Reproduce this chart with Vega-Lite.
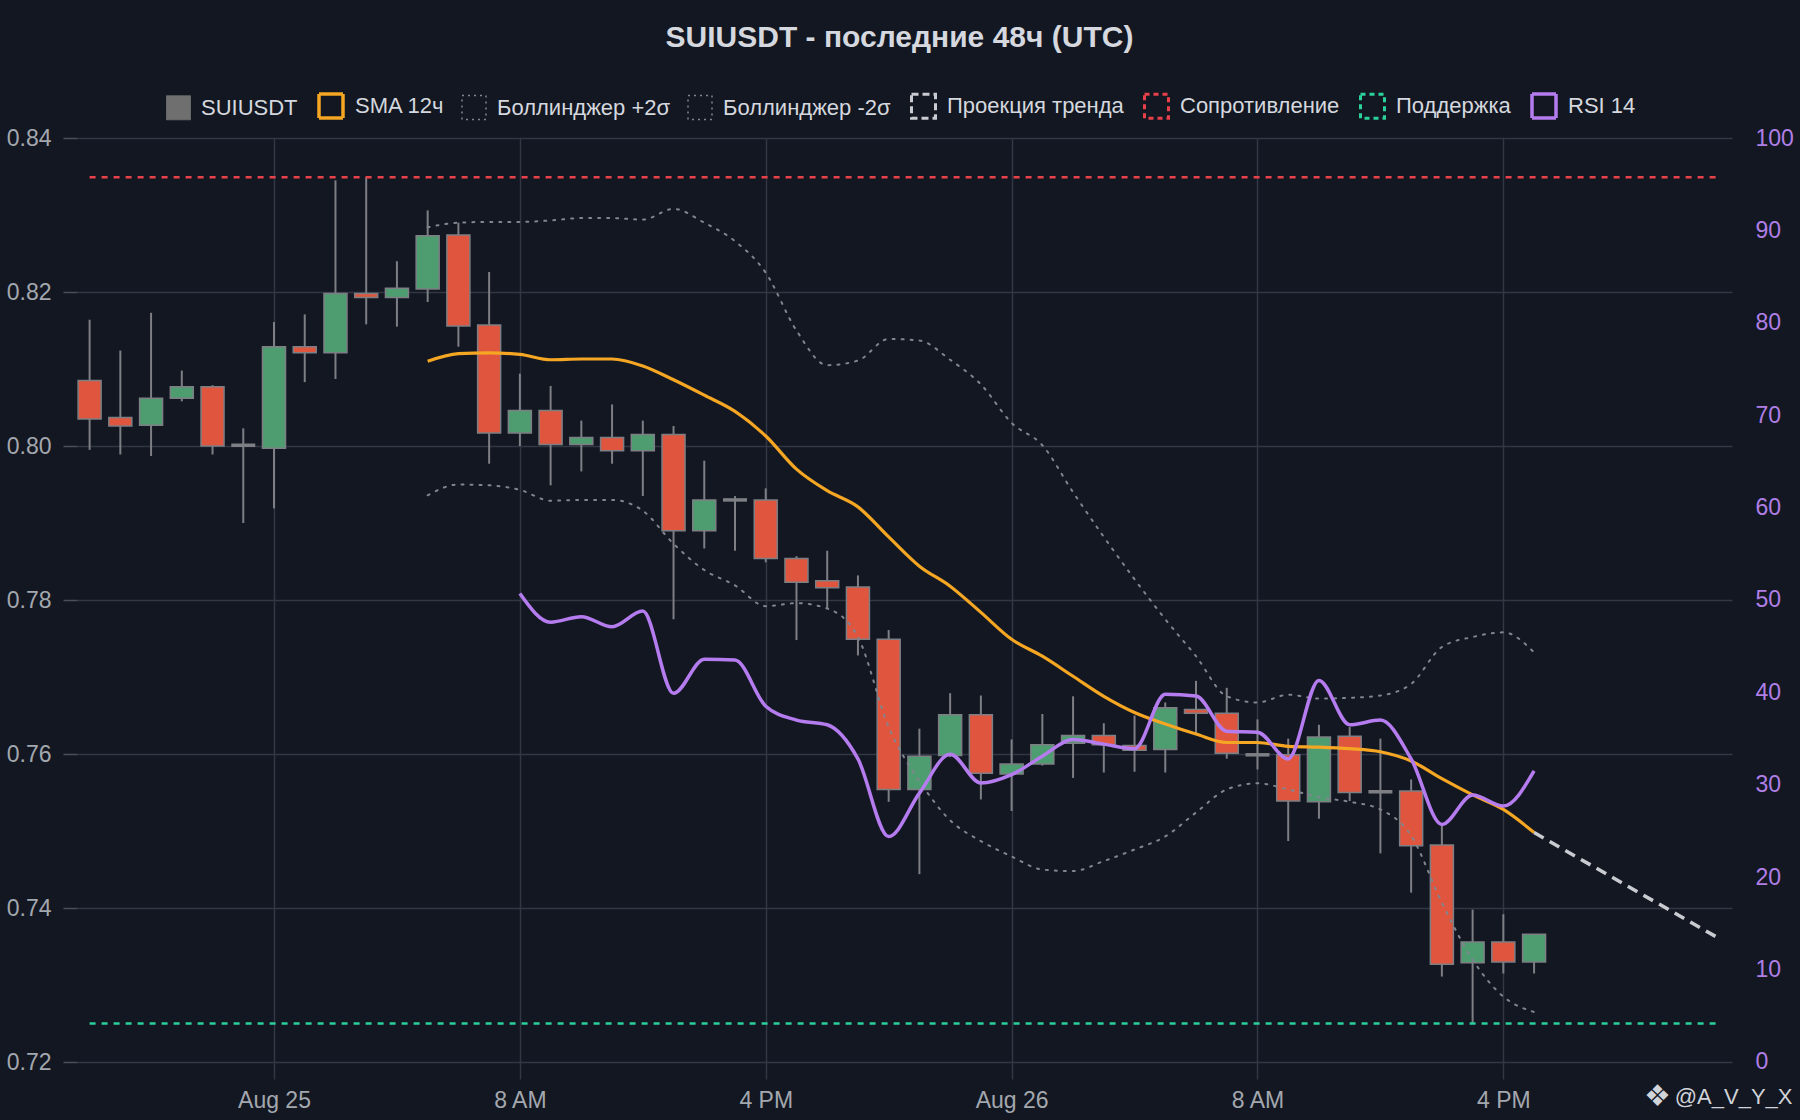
{
  "$schema": "https://vega.github.io/schema/vega-lite/v6.json",
  "background": "#131722",
  "autosize": {"type": "none"},
  "padding": {"left": 77, "top": 138, "right": 68, "bottom": 41},
  "width": 1655,
  "height": 941,
  "title": {
    "text": "SUIUSDT - последние 48ч (UTC)",
    "anchor": "middle",
    "fontSize": 30,
    "fontWeight": "bold",
    "color": "#d5d8de",
    "offset": 39,
    "dx": -5
  },
  "datasets": {
    "candles": [
      {"t": "2025-08-24T18:00:00Z", "o": 0.8085, "h": 0.8164, "l": 0.7995, "c": 0.8035},
      {"t": "2025-08-24T19:00:00Z", "o": 0.8037, "h": 0.8124, "l": 0.7989, "c": 0.8026},
      {"t": "2025-08-24T20:00:00Z", "o": 0.8027, "h": 0.8173, "l": 0.7987, "c": 0.8062},
      {"t": "2025-08-24T21:00:00Z", "o": 0.8062, "h": 0.8098, "l": 0.8058, "c": 0.8077},
      {"t": "2025-08-24T22:00:00Z", "o": 0.8077, "h": 0.8079, "l": 0.7989, "c": 0.8000},
      {"t": "2025-08-24T23:00:00Z", "o": 0.8001, "h": 0.8023, "l": 0.7900, "c": 0.8001},
      {"t": "2025-08-25T00:00:00Z", "o": 0.7997, "h": 0.8161, "l": 0.7919, "c": 0.8129},
      {"t": "2025-08-25T01:00:00Z", "o": 0.8129, "h": 0.8171, "l": 0.8083, "c": 0.8121},
      {"t": "2025-08-25T02:00:00Z", "o": 0.8121, "h": 0.8345, "l": 0.8087, "c": 0.8198},
      {"t": "2025-08-25T03:00:00Z", "o": 0.8198, "h": 0.8349, "l": 0.8158, "c": 0.8193},
      {"t": "2025-08-25T04:00:00Z", "o": 0.8193, "h": 0.8240, "l": 0.8155, "c": 0.8205},
      {"t": "2025-08-25T05:00:00Z", "o": 0.8204, "h": 0.8306, "l": 0.8187, "c": 0.8273},
      {"t": "2025-08-25T06:00:00Z", "o": 0.8274, "h": 0.8290, "l": 0.8129, "c": 0.8156},
      {"t": "2025-08-25T07:00:00Z", "o": 0.8157, "h": 0.8226, "l": 0.7977, "c": 0.8017},
      {"t": "2025-08-25T08:00:00Z", "o": 0.8017, "h": 0.8094, "l": 0.8000, "c": 0.8046},
      {"t": "2025-08-25T09:00:00Z", "o": 0.8046, "h": 0.8078, "l": 0.7949, "c": 0.8002},
      {"t": "2025-08-25T10:00:00Z", "o": 0.8002, "h": 0.8033, "l": 0.7967, "c": 0.8011},
      {"t": "2025-08-25T11:00:00Z", "o": 0.8011, "h": 0.8054, "l": 0.7977, "c": 0.7994},
      {"t": "2025-08-25T12:00:00Z", "o": 0.7994, "h": 0.8033, "l": 0.7935, "c": 0.8015},
      {"t": "2025-08-25T13:00:00Z", "o": 0.8015, "h": 0.8026, "l": 0.7775, "c": 0.7890},
      {"t": "2025-08-25T14:00:00Z", "o": 0.7890, "h": 0.7981, "l": 0.7867, "c": 0.7930},
      {"t": "2025-08-25T15:00:00Z", "o": 0.7930, "h": 0.7935, "l": 0.7864, "c": 0.7930},
      {"t": "2025-08-25T16:00:00Z", "o": 0.7930, "h": 0.7945, "l": 0.7849, "c": 0.7854},
      {"t": "2025-08-25T17:00:00Z", "o": 0.7854, "h": 0.7857, "l": 0.7748, "c": 0.7823},
      {"t": "2025-08-25T18:00:00Z", "o": 0.7825, "h": 0.7864, "l": 0.7789, "c": 0.7816},
      {"t": "2025-08-25T19:00:00Z", "o": 0.7817, "h": 0.7832, "l": 0.7728, "c": 0.7749},
      {"t": "2025-08-25T20:00:00Z", "o": 0.7749, "h": 0.7761, "l": 0.7538, "c": 0.7554},
      {"t": "2025-08-25T21:00:00Z", "o": 0.7554, "h": 0.7633, "l": 0.7444, "c": 0.7597},
      {"t": "2025-08-25T22:00:00Z", "o": 0.7598, "h": 0.7679, "l": 0.7596, "c": 0.7651},
      {"t": "2025-08-25T23:00:00Z", "o": 0.7651, "h": 0.7676, "l": 0.7541, "c": 0.7575},
      {"t": "2025-08-26T00:00:00Z", "o": 0.7574, "h": 0.7619, "l": 0.7526, "c": 0.7587},
      {"t": "2025-08-26T01:00:00Z", "o": 0.7587, "h": 0.7652, "l": 0.7585, "c": 0.7612},
      {"t": "2025-08-26T02:00:00Z", "o": 0.7614, "h": 0.7675, "l": 0.7569, "c": 0.7624},
      {"t": "2025-08-26T03:00:00Z", "o": 0.7624, "h": 0.7640, "l": 0.7576, "c": 0.7612},
      {"t": "2025-08-26T04:00:00Z", "o": 0.7611, "h": 0.7650, "l": 0.7577, "c": 0.7605},
      {"t": "2025-08-26T05:00:00Z", "o": 0.7606, "h": 0.7667, "l": 0.7576, "c": 0.7660},
      {"t": "2025-08-26T06:00:00Z", "o": 0.7658, "h": 0.7695, "l": 0.7625, "c": 0.7653},
      {"t": "2025-08-26T07:00:00Z", "o": 0.7653, "h": 0.7686, "l": 0.7594, "c": 0.7601},
      {"t": "2025-08-26T08:00:00Z", "o": 0.7599, "h": 0.7645, "l": 0.7580, "c": 0.7599},
      {"t": "2025-08-26T09:00:00Z", "o": 0.7599, "h": 0.7620, "l": 0.7487, "c": 0.7539},
      {"t": "2025-08-26T10:00:00Z", "o": 0.7538, "h": 0.7638, "l": 0.7516, "c": 0.7622},
      {"t": "2025-08-26T11:00:00Z", "o": 0.7623, "h": 0.7635, "l": 0.7539, "c": 0.7550},
      {"t": "2025-08-26T12:00:00Z", "o": 0.7551, "h": 0.7620, "l": 0.7471, "c": 0.7551},
      {"t": "2025-08-26T13:00:00Z", "o": 0.7552, "h": 0.7567, "l": 0.7420, "c": 0.7481},
      {"t": "2025-08-26T14:00:00Z", "o": 0.7482, "h": 0.7507, "l": 0.7311, "c": 0.7327},
      {"t": "2025-08-26T15:00:00Z", "o": 0.7329, "h": 0.7398, "l": 0.7251, "c": 0.7356},
      {"t": "2025-08-26T16:00:00Z", "o": 0.7356, "h": 0.7392, "l": 0.7315, "c": 0.7330},
      {"t": "2025-08-26T17:00:00Z", "o": 0.7330, "h": 0.7366, "l": 0.7315, "c": 0.7366}
    ],
    "sma": [
      {"t": "2025-08-25T05:00:00Z", "v": 0.8110},
      {"t": "2025-08-25T06:00:00Z", "v": 0.8120},
      {"t": "2025-08-25T07:00:00Z", "v": 0.8121},
      {"t": "2025-08-25T08:00:00Z", "v": 0.8119},
      {"t": "2025-08-25T09:00:00Z", "v": 0.8112},
      {"t": "2025-08-25T10:00:00Z", "v": 0.8113},
      {"t": "2025-08-25T11:00:00Z", "v": 0.8113},
      {"t": "2025-08-25T12:00:00Z", "v": 0.8104},
      {"t": "2025-08-25T13:00:00Z", "v": 0.8086},
      {"t": "2025-08-25T14:00:00Z", "v": 0.8066},
      {"t": "2025-08-25T15:00:00Z", "v": 0.8045},
      {"t": "2025-08-25T16:00:00Z", "v": 0.8013},
      {"t": "2025-08-25T17:00:00Z", "v": 0.7970},
      {"t": "2025-08-25T18:00:00Z", "v": 0.7942},
      {"t": "2025-08-25T19:00:00Z", "v": 0.7921},
      {"t": "2025-08-25T20:00:00Z", "v": 0.7882},
      {"t": "2025-08-25T21:00:00Z", "v": 0.7844},
      {"t": "2025-08-25T22:00:00Z", "v": 0.7818},
      {"t": "2025-08-25T23:00:00Z", "v": 0.7784},
      {"t": "2025-08-26T00:00:00Z", "v": 0.7749},
      {"t": "2025-08-26T01:00:00Z", "v": 0.7727},
      {"t": "2025-08-26T02:00:00Z", "v": 0.7701},
      {"t": "2025-08-26T03:00:00Z", "v": 0.7675},
      {"t": "2025-08-26T04:00:00Z", "v": 0.7654},
      {"t": "2025-08-26T05:00:00Z", "v": 0.7639},
      {"t": "2025-08-26T06:00:00Z", "v": 0.7626},
      {"t": "2025-08-26T07:00:00Z", "v": 0.7615},
      {"t": "2025-08-26T08:00:00Z", "v": 0.7615},
      {"t": "2025-08-26T09:00:00Z", "v": 0.7610},
      {"t": "2025-08-26T10:00:00Z", "v": 0.7609},
      {"t": "2025-08-26T11:00:00Z", "v": 0.7607},
      {"t": "2025-08-26T12:00:00Z", "v": 0.7603},
      {"t": "2025-08-26T13:00:00Z", "v": 0.7591},
      {"t": "2025-08-26T14:00:00Z", "v": 0.7568},
      {"t": "2025-08-26T15:00:00Z", "v": 0.7547},
      {"t": "2025-08-26T16:00:00Z", "v": 0.7528},
      {"t": "2025-08-26T17:00:00Z", "v": 0.7498}
    ],
    "bands": [
      {"t": "2025-08-25T05:00:00Z", "up": 0.8284, "lo": 0.7936},
      {"t": "2025-08-25T06:00:00Z", "up": 0.8290, "lo": 0.7950},
      {"t": "2025-08-25T07:00:00Z", "up": 0.8291, "lo": 0.7949},
      {"t": "2025-08-25T08:00:00Z", "up": 0.8291, "lo": 0.7943},
      {"t": "2025-08-25T09:00:00Z", "up": 0.8293, "lo": 0.7929},
      {"t": "2025-08-25T10:00:00Z", "up": 0.8296, "lo": 0.7930},
      {"t": "2025-08-25T11:00:00Z", "up": 0.8296, "lo": 0.7930},
      {"t": "2025-08-25T12:00:00Z", "up": 0.8294, "lo": 0.7916},
      {"t": "2025-08-25T13:00:00Z", "up": 0.8308, "lo": 0.7873},
      {"t": "2025-08-25T14:00:00Z", "up": 0.8290, "lo": 0.7839},
      {"t": "2025-08-25T15:00:00Z", "up": 0.8266, "lo": 0.7819},
      {"t": "2025-08-25T16:00:00Z", "up": 0.8225, "lo": 0.7792},
      {"t": "2025-08-25T17:00:00Z", "up": 0.8150, "lo": 0.7796},
      {"t": "2025-08-25T18:00:00Z", "up": 0.8105, "lo": 0.7789},
      {"t": "2025-08-25T19:00:00Z", "up": 0.8111, "lo": 0.7752},
      {"t": "2025-08-25T20:00:00Z", "up": 0.8139, "lo": 0.7635},
      {"t": "2025-08-25T21:00:00Z", "up": 0.8137, "lo": 0.7565},
      {"t": "2025-08-25T22:00:00Z", "up": 0.8112, "lo": 0.7514},
      {"t": "2025-08-25T23:00:00Z", "up": 0.8080, "lo": 0.7487},
      {"t": "2025-08-26T00:00:00Z", "up": 0.8030, "lo": 0.7467},
      {"t": "2025-08-26T01:00:00Z", "up": 0.8001, "lo": 0.7450},
      {"t": "2025-08-26T02:00:00Z", "up": 0.7940, "lo": 0.7448},
      {"t": "2025-08-26T03:00:00Z", "up": 0.7882, "lo": 0.7461},
      {"t": "2025-08-26T04:00:00Z", "up": 0.7827, "lo": 0.7476},
      {"t": "2025-08-26T05:00:00Z", "up": 0.7775, "lo": 0.7493},
      {"t": "2025-08-26T06:00:00Z", "up": 0.7727, "lo": 0.7524},
      {"t": "2025-08-26T07:00:00Z", "up": 0.7675, "lo": 0.7554},
      {"t": "2025-08-26T08:00:00Z", "up": 0.7667, "lo": 0.7562},
      {"t": "2025-08-26T09:00:00Z", "up": 0.7677, "lo": 0.7554},
      {"t": "2025-08-26T10:00:00Z", "up": 0.7672, "lo": 0.7544},
      {"t": "2025-08-26T11:00:00Z", "up": 0.7673, "lo": 0.7538},
      {"t": "2025-08-26T12:00:00Z", "up": 0.7676, "lo": 0.7528},
      {"t": "2025-08-26T13:00:00Z", "up": 0.7691, "lo": 0.7494},
      {"t": "2025-08-26T14:00:00Z", "up": 0.7739, "lo": 0.7407},
      {"t": "2025-08-26T15:00:00Z", "up": 0.7752, "lo": 0.7333},
      {"t": "2025-08-26T16:00:00Z", "up": 0.7758, "lo": 0.7285},
      {"t": "2025-08-26T17:00:00Z", "up": 0.7732, "lo": 0.7265}
    ],
    "rsi": [
      {"t": "2025-08-25T08:00:00Z", "v": 50.7},
      {"t": "2025-08-25T09:00:00Z", "v": 47.6},
      {"t": "2025-08-25T10:00:00Z", "v": 48.2},
      {"t": "2025-08-25T11:00:00Z", "v": 47.1},
      {"t": "2025-08-25T12:00:00Z", "v": 48.8},
      {"t": "2025-08-25T13:00:00Z", "v": 39.9},
      {"t": "2025-08-25T14:00:00Z", "v": 43.6},
      {"t": "2025-08-25T15:00:00Z", "v": 43.5},
      {"t": "2025-08-25T16:00:00Z", "v": 38.5},
      {"t": "2025-08-25T17:00:00Z", "v": 37.0},
      {"t": "2025-08-25T18:00:00Z", "v": 36.5},
      {"t": "2025-08-25T19:00:00Z", "v": 32.8},
      {"t": "2025-08-25T20:00:00Z", "v": 24.4},
      {"t": "2025-08-25T21:00:00Z", "v": 29.1},
      {"t": "2025-08-25T22:00:00Z", "v": 33.3},
      {"t": "2025-08-25T23:00:00Z", "v": 30.2},
      {"t": "2025-08-26T00:00:00Z", "v": 31.1},
      {"t": "2025-08-26T01:00:00Z", "v": 33.1},
      {"t": "2025-08-26T02:00:00Z", "v": 34.9},
      {"t": "2025-08-26T03:00:00Z", "v": 34.4},
      {"t": "2025-08-26T04:00:00Z", "v": 33.9},
      {"t": "2025-08-26T05:00:00Z", "v": 39.8},
      {"t": "2025-08-26T06:00:00Z", "v": 39.6},
      {"t": "2025-08-26T07:00:00Z", "v": 35.8},
      {"t": "2025-08-26T08:00:00Z", "v": 35.7},
      {"t": "2025-08-26T09:00:00Z", "v": 32.8},
      {"t": "2025-08-26T10:00:00Z", "v": 41.3},
      {"t": "2025-08-26T11:00:00Z", "v": 36.5},
      {"t": "2025-08-26T12:00:00Z", "v": 37.0},
      {"t": "2025-08-26T13:00:00Z", "v": 32.8},
      {"t": "2025-08-26T14:00:00Z", "v": 25.7},
      {"t": "2025-08-26T15:00:00Z", "v": 28.9},
      {"t": "2025-08-26T16:00:00Z", "v": 27.7},
      {"t": "2025-08-26T17:00:00Z", "v": 31.5}
    ],
    "projection": [
      {"t": "2025-08-26T17:00:00Z", "v": 0.7498},
      {"t": "2025-08-26T23:00:00Z", "v": 0.7361}
    ],
    "levels": [
      {"name": "resistance", "t": "2025-08-24T18:00:00Z", "t2": "2025-08-26T23:00:00Z", "v": 0.8349},
      {"name": "support", "t": "2025-08-24T18:00:00Z", "t2": "2025-08-26T23:00:00Z", "v": 0.7250}
    ],
    "legend": [
      {"series": "SUIUSDT"},
      {"series": "SMA 12ч"},
      {"series": "Боллинджер +2σ"},
      {"series": "Боллинджер -2σ"},
      {"series": "Проекция тренда"},
      {"series": "Сопротивление"},
      {"series": "Поддержка"},
      {"series": "RSI 14"}
    ]
  },
  "encoding": {
    "x": {
      "field": "t",
      "type": "temporal",
      "scale": {"type": "utc", "domain": [1756056924000, 1756250784000], "padding": 0},
      "axis": {
        "values": [1756080000000, 1756108800000, 1756137600000, 1756166400000, 1756195200000, 1756224000000],
        "labelExpr": "utchours(datum.value) == 0 ? utcFormat(datum.value, '%b %d') : utcFormat(datum.value, '%-I %p')",
        "grid": true,
        "gridColor": "#323744",
        "gridWidth": 1.5,
        "ticks": false,
        "domain": false,
        "labelFontSize": 23,
        "labelColor": "#a3a7ae",
        "labelPadding": 10,
        "labelOverlap": false,
        "title": "@A_V_Y_X",
        "titleX": 1715,
        "titleY": 17,
        "titleAlign": "right",
        "titleBaseline": "middle",
        "titleFontSize": 22,
        "titleFontWeight": "normal",
        "titleColor": "#d0d3d8"
      }
    }
  },
  "layer": [
    {
      "layer": [
        {
          "data": {"name": "candles"},
          "mark": {"type": "rule", "stroke": "#7d7f84", "strokeWidth": 2},
          "encoding": {
            "y": {
              "field": "l",
              "type": "quantitative",
              "scale": {"domain": [0.7178, 0.84], "nice": false, "zero": false, "padding": 0},
              "axis": {"values": [0.72, 0.74, 0.76, 0.78, 0.80, 0.82, 0.84], "format": ".2f", "grid": true, "gridColor": "#323744", "gridWidth": 1.5, "ticks": true, "tickSize": 14, "tickColor": "#4a4f5a", "tickWidth": 1.5, "domain": false, "labelFontSize": 23, "labelColor": "#a3a7ae", "labelPadding": 12, "title": null}
            },
            "y2": {"field": "h"}
          }
        },
        {
          "data": {"name": "candles"},
          "transform": [{"filter": "datum.c > datum.o"}],
          "mark": {"type": "bar", "width": 23, "fill": "#4e9d71", "stroke": "#7d7f84", "strokeWidth": 1.5},
          "encoding": {
            "y": {
              "field": "o",
              "type": "quantitative",
              "scale": {"domain": [0.7178, 0.84], "nice": false, "zero": false, "padding": 0},
              "axis": {"values": [0.72, 0.74, 0.76, 0.78, 0.80, 0.82, 0.84], "format": ".2f", "grid": true, "gridColor": "#323744", "gridWidth": 1.5, "ticks": true, "tickSize": 14, "tickColor": "#4a4f5a", "tickWidth": 1.5, "domain": false, "labelFontSize": 23, "labelColor": "#a3a7ae", "labelPadding": 12, "title": null}
            },
            "y2": {"field": "c"}
          }
        },
        {
          "data": {"name": "candles"},
          "transform": [{"filter": "datum.c < datum.o"}],
          "mark": {"type": "bar", "width": 23, "fill": "#e0553e", "stroke": "#7d7f84", "strokeWidth": 1.5},
          "encoding": {
            "y": {
              "field": "o",
              "type": "quantitative",
              "scale": {"domain": [0.7178, 0.84], "nice": false, "zero": false, "padding": 0},
              "axis": {"values": [0.72, 0.74, 0.76, 0.78, 0.80, 0.82, 0.84], "format": ".2f", "grid": true, "gridColor": "#323744", "gridWidth": 1.5, "ticks": true, "tickSize": 14, "tickColor": "#4a4f5a", "tickWidth": 1.5, "domain": false, "labelFontSize": 23, "labelColor": "#a3a7ae", "labelPadding": 12, "title": null}
            },
            "y2": {"field": "c"}
          }
        },
        {
          "data": {"name": "candles"},
          "transform": [{"filter": "datum.c == datum.o"}],
          "mark": {"type": "tick", "orient": "horizontal", "size": 24, "thickness": 3.5, "color": "#7d7f84", "opacity": 1},
          "encoding": {
            "y": {
              "field": "o",
              "type": "quantitative",
              "scale": {"domain": [0.7178, 0.84], "nice": false, "zero": false, "padding": 0},
              "axis": {"values": [0.72, 0.74, 0.76, 0.78, 0.80, 0.82, 0.84], "format": ".2f", "grid": true, "gridColor": "#323744", "gridWidth": 1.5, "ticks": true, "tickSize": 14, "tickColor": "#4a4f5a", "tickWidth": 1.5, "domain": false, "labelFontSize": 23, "labelColor": "#a3a7ae", "labelPadding": 12, "title": null}
            }
          }
        },
        {
          "data": {"name": "levels"},
          "mark": {"type": "rule", "strokeWidth": 2.5, "strokeDash": [6, 6]},
          "encoding": {
            "x2": {"field": "t2"},
            "y": {
              "field": "v",
              "type": "quantitative",
              "scale": {"domain": [0.7178, 0.84], "nice": false, "zero": false, "padding": 0},
              "axis": {"values": [0.72, 0.74, 0.76, 0.78, 0.80, 0.82, 0.84], "format": ".2f", "grid": true, "gridColor": "#323744", "gridWidth": 1.5, "ticks": true, "tickSize": 14, "tickColor": "#4a4f5a", "tickWidth": 1.5, "domain": false, "labelFontSize": 23, "labelColor": "#a3a7ae", "labelPadding": 12, "title": null}
            },
            "stroke": {"condition": {"test": "datum.name == 'resistance'", "value": "#e8414a"}, "value": "#2bd19b"}
          }
        },
        {
          "data": {"name": "bands"},
          "mark": {"type": "line", "interpolate": "monotone", "stroke": "#80858e", "strokeWidth": 2, "strokeDash": [2, 7], "strokeCap": "round"},
          "encoding": {
            "y": {
              "field": "up",
              "type": "quantitative",
              "scale": {"domain": [0.7178, 0.84], "nice": false, "zero": false, "padding": 0},
              "axis": {"values": [0.72, 0.74, 0.76, 0.78, 0.80, 0.82, 0.84], "format": ".2f", "grid": true, "gridColor": "#323744", "gridWidth": 1.5, "ticks": true, "tickSize": 14, "tickColor": "#4a4f5a", "tickWidth": 1.5, "domain": false, "labelFontSize": 23, "labelColor": "#a3a7ae", "labelPadding": 12, "title": null}
            }
          }
        },
        {
          "data": {"name": "bands"},
          "mark": {"type": "line", "interpolate": "monotone", "stroke": "#80858e", "strokeWidth": 2, "strokeDash": [2, 7], "strokeCap": "round"},
          "encoding": {
            "y": {
              "field": "lo",
              "type": "quantitative",
              "scale": {"domain": [0.7178, 0.84], "nice": false, "zero": false, "padding": 0},
              "axis": {"values": [0.72, 0.74, 0.76, 0.78, 0.80, 0.82, 0.84], "format": ".2f", "grid": true, "gridColor": "#323744", "gridWidth": 1.5, "ticks": true, "tickSize": 14, "tickColor": "#4a4f5a", "tickWidth": 1.5, "domain": false, "labelFontSize": 23, "labelColor": "#a3a7ae", "labelPadding": 12, "title": null}
            }
          }
        },
        {
          "data": {"name": "sma"},
          "mark": {"type": "line", "interpolate": "monotone", "stroke": "#f5a623", "strokeWidth": 3.2},
          "encoding": {
            "y": {
              "field": "v",
              "type": "quantitative",
              "scale": {"domain": [0.7178, 0.84], "nice": false, "zero": false, "padding": 0},
              "axis": {"values": [0.72, 0.74, 0.76, 0.78, 0.80, 0.82, 0.84], "format": ".2f", "grid": true, "gridColor": "#323744", "gridWidth": 1.5, "ticks": true, "tickSize": 14, "tickColor": "#4a4f5a", "tickWidth": 1.5, "domain": false, "labelFontSize": 23, "labelColor": "#a3a7ae", "labelPadding": 12, "title": null}
            }
          }
        },
        {
          "data": {"name": "projection"},
          "mark": {"type": "line", "stroke": "#c9cbd1", "strokeWidth": 3.5, "strokeDash": [11, 7]},
          "encoding": {
            "y": {
              "field": "v",
              "type": "quantitative",
              "scale": {"domain": [0.7178, 0.84], "nice": false, "zero": false, "padding": 0},
              "axis": {"values": [0.72, 0.74, 0.76, 0.78, 0.80, 0.82, 0.84], "format": ".2f", "grid": true, "gridColor": "#323744", "gridWidth": 1.5, "ticks": true, "tickSize": 14, "tickColor": "#4a4f5a", "tickWidth": 1.5, "domain": false, "labelFontSize": 23, "labelColor": "#a3a7ae", "labelPadding": 12, "title": null}
            }
          }
        },
        {
          "data": {"name": "legend"},
          "mark": {"type": "point", "shape": "square", "filled": true, "opacity": 1},
          "encoding": {
            "y": {
              "field": "v",
              "type": "quantitative",
              "scale": {"domain": [0.7178, 0.84], "nice": false, "zero": false, "padding": 0},
              "axis": {"values": [0.72, 0.74, 0.76, 0.78, 0.80, 0.82, 0.84], "format": ".2f", "grid": true, "gridColor": "#323744", "gridWidth": 1.5, "ticks": true, "tickSize": 14, "tickColor": "#4a4f5a", "tickWidth": 1.5, "domain": false, "labelFontSize": 23, "labelColor": "#a3a7ae", "labelPadding": 12, "title": null}
            },
            "stroke": {
              "field": "series",
              "type": "nominal",
              "scale": {
                "domain": ["SUIUSDT", "SMA 12ч", "Боллинджер +2σ", "Боллинджер -2σ", "Проекция тренда", "Сопротивление", "Поддержка", "RSI 14"],
                "range": ["#6f6f6f", "#f5a623", "#80858e", "#80858e", "#c9cbd1", "#e8414a", "#2bd19b", "#b57cf0"]
              },
              "legend": {"title": null, "orient": "none", "legendX": 89, "legendY": -46, "direction": "horizontal"}
            },
            "fill": {
              "field": "series",
              "type": "nominal",
              "scale": {
                "domain": ["SUIUSDT", "SMA 12ч", "Боллинджер +2σ", "Боллинджер -2σ", "Проекция тренда", "Сопротивление", "Поддержка", "RSI 14"],
                "range": ["#6f6f6f", "transparent", "transparent", "transparent", "transparent", "transparent", "transparent", "transparent"]
              },
              "legend": {"title": null, "orient": "none", "legendX": 89, "legendY": -46, "direction": "horizontal"}
            },
            "strokeDash": {
              "field": "series",
              "type": "nominal",
              "scale": {
                "domain": ["SUIUSDT", "SMA 12ч", "Боллинджер +2σ", "Боллинджер -2σ", "Проекция тренда", "Сопротивление", "Поддержка", "RSI 14"],
                "range": [[1, 0], [1, 0], [2, 4], [2, 4], [7, 4], [5, 4], [5, 4], [1, 0]]
              },
              "legend": {"title": null, "orient": "none", "legendX": 89, "legendY": -46, "direction": "horizontal"}
            },
            "strokeWidth": {
              "field": "series",
              "type": "nominal",
              "scale": {
                "type": "ordinal",
                "domain": ["SUIUSDT", "SMA 12ч", "Боллинджер +2σ", "Боллинджер -2σ", "Проекция тренда", "Сопротивление", "Поддержка", "RSI 14"],
                "range": [1, 3.5, 1.5, 1.5, 3, 3, 3, 3.5]
              },
              "legend": {"title": null, "orient": "none", "legendX": 89, "legendY": -46, "direction": "horizontal"}
            }
          }
        }
      ]
    },
    {
      "data": {"name": "rsi"},
      "mark": {"type": "line", "interpolate": "monotone", "stroke": "#b57cf0", "strokeWidth": 3.5},
      "encoding": {
        "y": {
          "field": "v",
          "type": "quantitative",
          "scale": {"domain": [-1.84, 100], "nice": false, "zero": false},
          "axis": {
            "orient": "right",
            "values": [0, 10, 20, 30, 40, 50, 60, 70, 80, 90, 100],
            "grid": false,
            "ticks": false,
            "domain": false,
            "labelFontSize": 23,
            "labelColor": "#b07fe6",
            "labelPadding": 23,
            "title": "❖",
            "titleX": -75,
            "titleY": 958,
            "titleAngle": 0,
            "titleAlign": "center",
            "titleBaseline": "middle",
            "titleFont": "DejaVu Sans",
            "titleFontSize": 30,
            "titleFontWeight": "normal",
            "titleColor": "#d0d3d8"
          }
        }
      }
    }
  ],
  "resolve": {"scale": {"y": "independent"}},
  "config": {
    "font": "Liberation Sans",
    "view": {"stroke": null},
    "legend": {
      "symbolSize": 576,
      "symbolType": "square",
      "labelFontSize": 22,
      "labelColor": "#d5d8de",
      "labelLimit": 400,
      "columnPadding": 14,
      "labelOffset": 10,
      "padding": 0
    }
  }
}
